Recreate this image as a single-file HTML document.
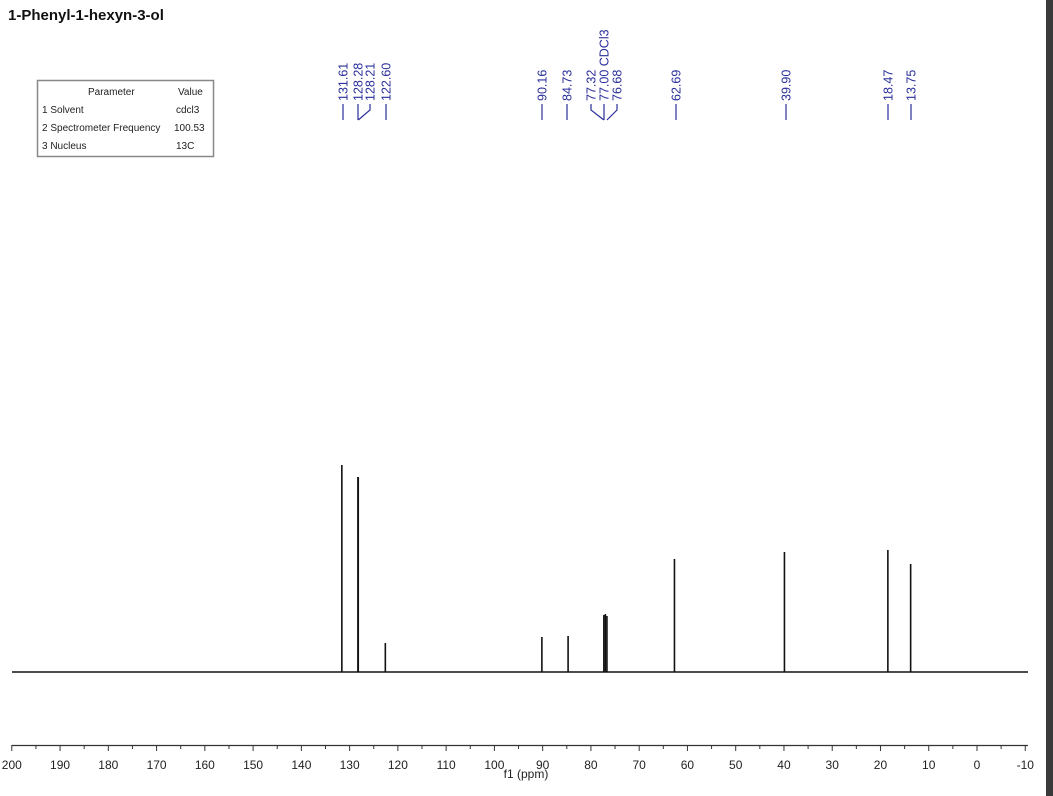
<!DOCTYPE html>
<html><head><meta charset="utf-8"><style>
html,body{margin:0;padding:0;background:#fff;}
svg{display:block;font-family:"Liberation Sans",sans-serif;}
</style></head><body>
<svg width="1053" height="796" viewBox="0 0 1053 796">
<text x="8" y="20" font-size="15" font-weight="bold" fill="#111">1-Phenyl-1-hexyn-3-ol</text>
<g>
<rect x="37.5" y="80.5" width="176" height="76" fill="#fff" stroke="#888" stroke-width="1.5"/>
<text x="88" y="95" font-size="10" fill="#222">Parameter</text><text x="178" y="95" font-size="10" fill="#222">Value</text>
<text x="42" y="113" font-size="10" fill="#222">1 Solvent</text><text x="176" y="113" font-size="10" fill="#222">cdcl3</text>
<text x="42" y="131" font-size="10" fill="#222">2 Spectrometer Frequency</text><text x="174" y="131" font-size="10" fill="#222">100.53</text>
<text x="42" y="149" font-size="10" fill="#222">3 Nucleus</text><text x="176" y="149" font-size="10" fill="#222">13C</text>
</g>
<g id="labels"></g>
<g id="peaks"></g>
<g id="axis"></g>
<text x="526" y="778" font-size="12" text-anchor="middle" fill="#222">f1 (ppm)</text>
<rect x="1046" y="0" width="7" height="796" fill="#3a3a3a"/>
</svg>
<script>
const peakPpm=[131.61,128.28,128.21,122.60,90.16,84.73,77.32,77.00,76.68,62.69,39.90,18.47,13.75];
const peakInt=[207,195,195,29,35,36,57,58,56,113,120,122,108];
const labelText=["131.61","128.28","128.21","122.60","90.16","84.73","77.32","77.00 CDCl3","76.68","62.69","39.90","18.47","13.75"];
const labelX=[343,358,370,386,542,567,591,604,617,676,786,888,911];
const ticks=[200,190,180,170,160,150,140,130,120,110,100,90,80,70,60,50,40,30,20,10,0,-10];
const NS="http://www.w3.org/2000/svg";
const x=p=>977-4.826*p, base=672, y=v=>base-v;
function mk(t,a,parent){const e=document.createElementNS(NS,t);for(const k in a)e.setAttribute(k,a[k]);parent.appendChild(e);return e;}
const pk=document.getElementById('peaks');
const bl=mk('line',{x1:12,x2:1028,y1:base,y2:base,stroke:'#111','stroke-width':1.5},pk);


peakPpm.forEach((p,i)=>{
  const l=mk('line',{x1:x(p),x2:x(p),y1:base,y2:y(peakInt[i]),stroke:'#111','stroke-width':1.6},pk);
  
  
});
const lg=document.getElementById('labels');
labelText.forEach((t,i)=>{
  const lx=labelX[i], px=x(peakPpm[i]);
  const tx=mk('text',{x:0,y:0,'font-size':12.5,fill:'#2a2f9a',transform:`translate(${lx+4.5},101) rotate(-90)`},lg);
  tx.textContent=t;
  
  
  const d=mk('polyline',{points:`${lx},104 ${lx},110 ${Math.abs(px-lx)>3?px:lx},120`,fill:'none',stroke:'#2a2f9a','stroke-width':1.2},lg);
  
  
});
const ax=document.getElementById('axis');
mk('line',{x1:12,x2:1028,y1:745.5,y2:745.5,stroke:'#333','stroke-width':1.2},ax);
for(let p=200;p>=-10;p-=5){mk('line',{x1:x(p),x2:x(p),y1:745,y2:p%10===0?751:749,stroke:'#333','stroke-width':1},ax);}
ticks.forEach(p=>{
  const t=mk('text',{x:x(p),y:769,'font-size':12,'text-anchor':'middle',fill:'#222'},ax);
  t.textContent=String(p);
  
  
});
</script>
</body></html>
